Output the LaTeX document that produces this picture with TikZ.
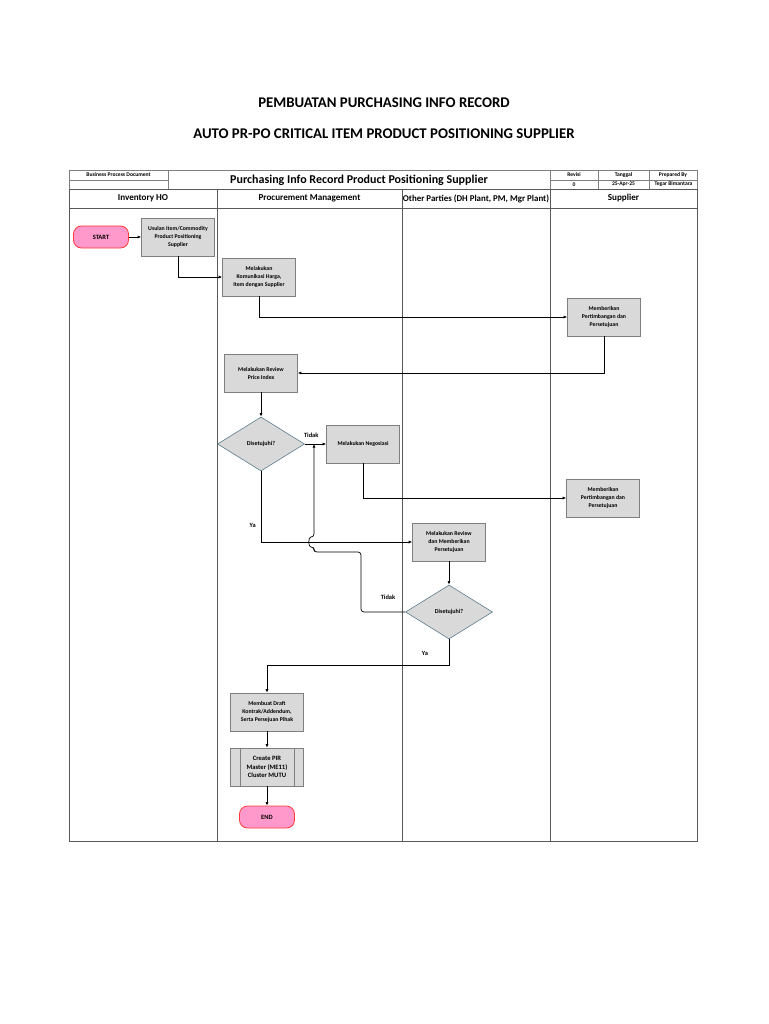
\documentclass[tikz,border=0pt]{standalone}
\usepackage{fontspec}
\setmainfont{Carlito}
\usepackage{xcolor}
\usepackage{tikz}
\usetikzlibrary{arrows.meta,positioning,shapes.geometric}

\definecolor{boxgray}{HTML}{D9D9D9}
\definecolor{edgegray}{HTML}{7F7F7F}
\definecolor{pinkfill}{HTML}{FF99CC}
\definecolor{redline}{HTML}{FF3B3B}
\definecolor{diaedge}{HTML}{5B7B8C}
\definecolor{laneline}{HTML}{595959}

\begin{document}
\begin{tikzpicture}[
        x=1pt, y=-1pt,
        proc/.style={draw=edgegray, fill=boxgray, line width=0.6pt, rectangle,
            minimum width=73pt, minimum height=38pt, inner sep=1pt, align=center,
            font=\bfseries\fontsize{5.8}{8}\selectfont},
        decision/.style={draw=diaedge, fill=boxgray, line width=0.6pt, diamond,
            minimum width=87pt, minimum height=54pt, inner sep=0pt,
            font=\bfseries\fontsize{6}{7}\selectfont},
        term/.style={draw=redline, fill=pinkfill, line width=0.8pt, rounded corners=8pt,
            minimum width=55pt, minimum height=22pt, inner sep=0pt,
            font=\bfseries\fontsize{6.5}{7}\selectfont},
        cell/.style={inner sep=0pt, font=\bfseries\fontsize{5.6}{6}\selectfont},
        lane/.style={inner sep=0pt, font=\bfseries\fontsize{9.1}{10}\selectfont},
        lbl/.style={inner sep=0pt, font=\bfseries\fontsize{6.4}{7}\selectfont},
        flow/.style={->, line width=0.7pt},
        >={Latex[length=3.5pt,width=3pt]}
    ]
        \useasboundingbox (0,0) rectangle (768,1024);

        % titles
        \node[font=\bfseries\fontsize{14.8}{16}\selectfont] (title) at (384,103) {PEMBUATAN PURCHASING INFO RECORD};
        \node[font=\bfseries\fontsize{14.8}{16}\selectfont] (subtitle) at (384,134) {AUTO PR-PO CRITICAL ITEM PRODUCT POSITIONING SUPPLIER};

        % header table
        \draw[edgegray, line width=0.6pt] (69,170) rectangle (697,189);
        \draw[edgegray, line width=0.6pt] (69,180) -- (168,180);
        \draw[edgegray, line width=0.6pt] (550,180) -- (697,180);
        \draw[edgegray, line width=0.6pt] (168,170) -- (168,189);
        \draw[edgegray, line width=0.6pt] (550,170) -- (550,189);
        \draw[edgegray, line width=0.6pt] (598,170) -- (598,189);
        \draw[edgegray, line width=0.6pt] (649,170) -- (649,189);
        \node[cell] (bpd) at (118.5,175) {Business Process Document};
        \node[font=\bfseries\fontsize{12}{13}\selectfont, inner sep=0pt] (doctitle) at (359,180) {Purchasing Info Record Product Positioning Supplier};
        \node[cell] (revisi) at (574,175) {Revisi};
        \node[cell] (tanggal) at (623.5,175) {Tanggal};
        \node[cell] (prepby) at (673,175) {Prepared By};
        \node[cell] (revno) at (574,184.5) {0};
        \node[cell] (tgl) at (623.5,184.5) {25-Apr-25};
        \node[cell] (nama) at (673.5,184.5) {Tegar Bimantara};

        % lanes
        \draw[laneline, line width=0.7pt] (69,189) rectangle (697,841);
        \draw[laneline, line width=0.7pt] (69,208) -- (697,208);
        \foreach \lx in {217,402,550}
            \draw[laneline, line width=0.7pt] (\lx,189) -- (\lx,841);
        \node[lane] (laneinv) at (143,198.5) {Inventory HO};
        \node[lane] (laneproc) at (309.5,198.5) {Procurement Management};
        \node[lane, font=\bfseries\fontsize{8.9}{10}\selectfont] (laneoth) at (476,198.5) {Other Parties (DH Plant, PM, Mgr Plant)};
        \node[lane] (lanesup) at (623.5,198.5) {Supplier};

        % flow nodes
        \node[term] (start) at (101,237) {START};
        \node[proc] (usulan) at (178,237) {Usulan Item/Commodity\\Product Positioning\\Supplier};
        \node[proc] (komunikasi) at (259,277) {Melakukan\\Komunikasi Harga,\\Item dengan Supplier};
        \node[proc] (beri1) at (604,317) {Memberikan\\Pertimbangan dan\\Persetujuan};
        \node[proc] (review1) at (261,373) {Melakukan Review\\Price Index};
        \node[decision] (dec1) at (261,444) {Disetujuhi?};
        \node[proc] (nego) at (363,444) {Melakukan Negosiasi};
        \node[proc] (beri2) at (603,498) {Memberikan\\Pertimbangan dan\\Persetujuan};
        \node[proc] (review2) at (449,542) {Melakukan Review\\dan Memberikan\\Persetujuan};
        \node[decision] (dec2) at (449,612) {Disetujuhi?};
        \node[proc] (draft) at (267,712) {Membuat Draft\\Kontrak/Addendum,\\Serta Persejuan Pihak};
        \node[proc, font=\bfseries\fontsize{6.6}{8.8}\selectfont] (pir) at (267,767) {Create PIR\\Master (ME11)\\Cluster MUTU};
        \draw[edgegray, line width=0.6pt] ([xshift=10pt]pir.north west) -- ([xshift=10pt]pir.south west);
        \draw[edgegray, line width=0.6pt] ([xshift=-10pt]pir.north east) -- ([xshift=-10pt]pir.south east);
        \node[term] (end) at (267,817) {END};

        \coordinate (jog) at (361,552);
        \coordinate (hopA) at (314,547);
        \coordinate (hopB) at (314,537);

        % connectors
        \draw[flow] (start) -- (usulan);
        \draw[flow] (usulan.south) |- (komunikasi.west);
        \draw[flow] (komunikasi.south) |- (beri1.west);
        \draw[flow] (beri1.south) |- (review1.east);
        \draw[flow] (review1) -- (dec1);
        \draw[flow] (dec1.east) -- (nego.west) node[lbl, pos=0.3, above=6pt] {Tidak};
        \draw[flow] (nego.south) |- (beri2.west);
        \draw[flow] (dec1.south) |- (review2.west) node[lbl, pos=0.38, left=5pt] {Ya};
        \draw[flow] (review2) -- (dec2);
        \draw[flow, rounded corners=3pt] (dec2.west) -| (jog) -- (hopA |- jog) -- (hopA)
            .. controls +(-6,0) and +(-6,0) .. (hopB) -- (hopB |- dec1.east);
        \node[lbl] (tidak2) at (388,597) {Tidak};
        \draw[flow] (dec2.south) -- ++(0,26) -| (draft.north);
        \node[lbl] (ya2) at (425,653) {Ya};
        \draw[flow] (draft) -- (pir);
        \draw[flow] (pir) -- (end);
    \end{tikzpicture}
\end{document}
